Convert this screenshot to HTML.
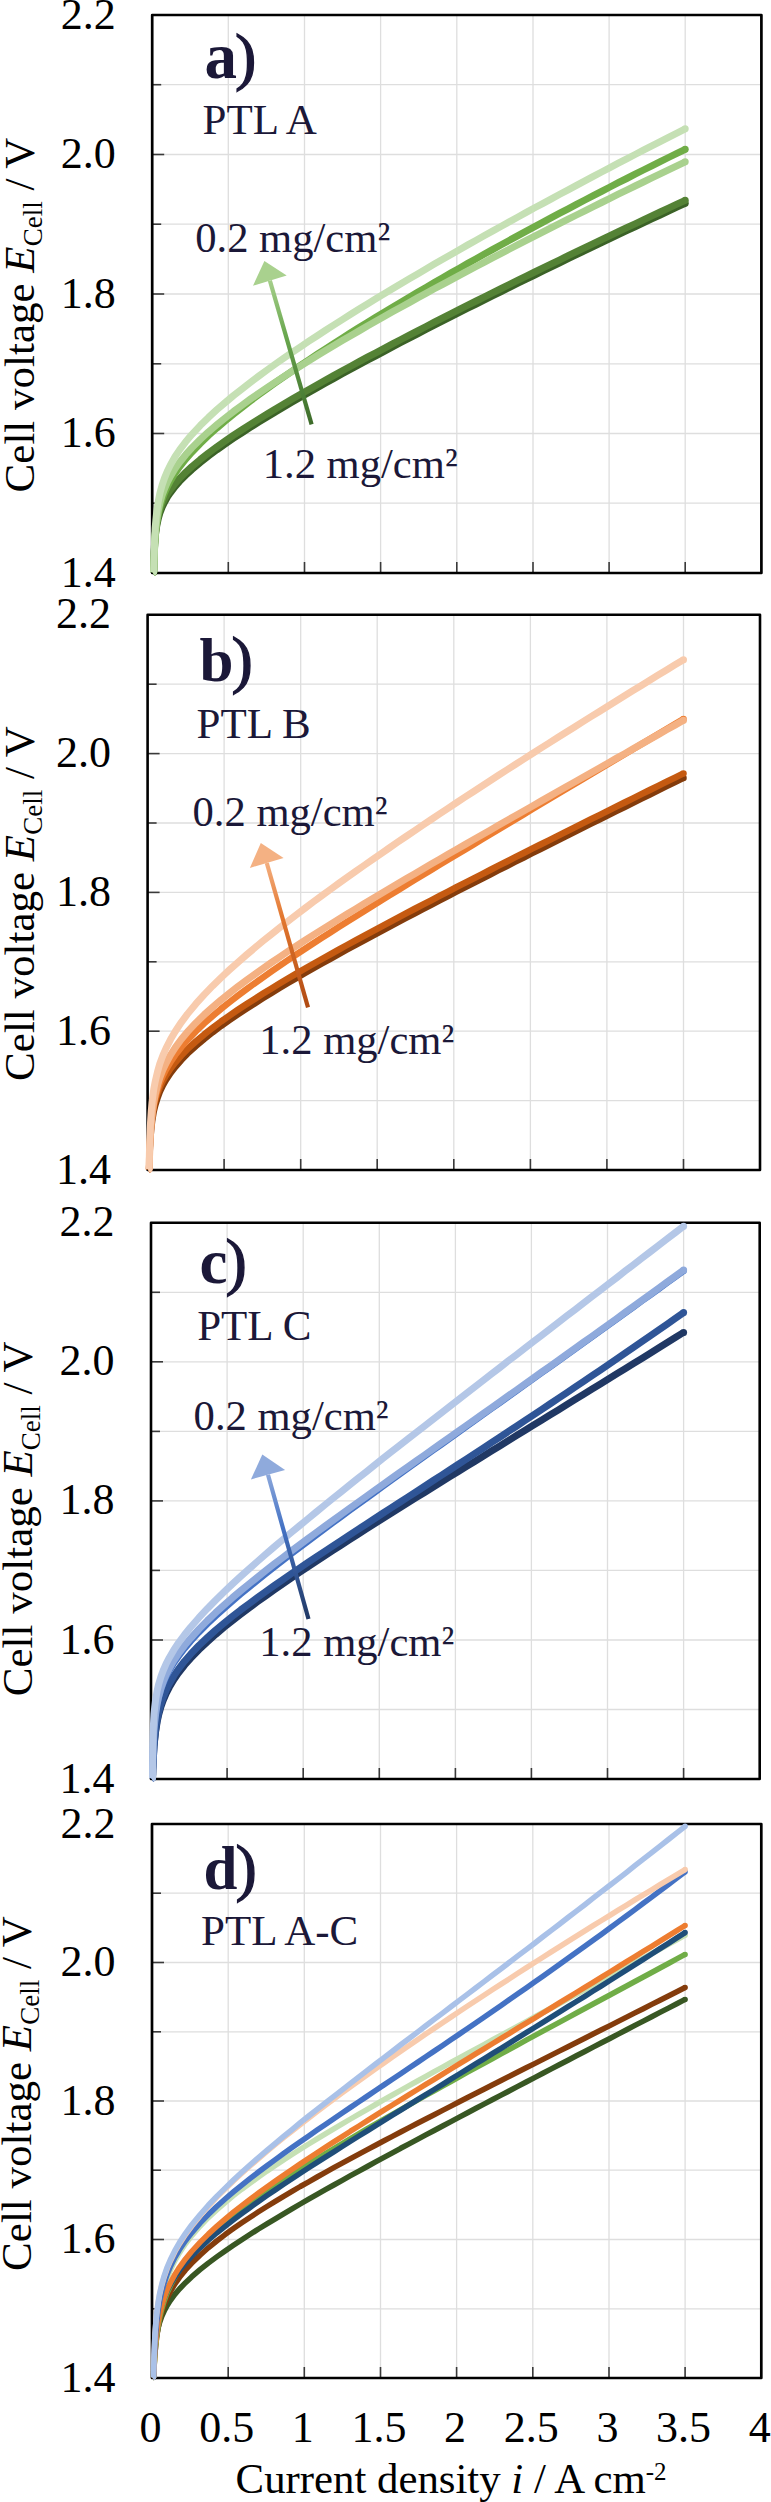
<!DOCTYPE html>
<html><head><meta charset="utf-8"><style>html,body{margin:0;padding:0;background:#fff;}svg{display:block}</style></head>
<body><svg width="771" height="2502" viewBox="0 0 771 2502" font-family='"Liberation Serif", serif'>

<rect width="771" height="2502" fill="#fff"/>
<line x1="152.2" y1="503.2" x2="761.4" y2="503.2" stroke="#dedede" stroke-width="1.3"/>
<line x1="152.2" y1="433.5" x2="761.4" y2="433.5" stroke="#dedede" stroke-width="1.3"/>
<line x1="152.2" y1="363.8" x2="761.4" y2="363.8" stroke="#dedede" stroke-width="1.3"/>
<line x1="152.2" y1="294.0" x2="761.4" y2="294.0" stroke="#dedede" stroke-width="1.3"/>
<line x1="152.2" y1="224.2" x2="761.4" y2="224.2" stroke="#dedede" stroke-width="1.3"/>
<line x1="152.2" y1="154.5" x2="761.4" y2="154.5" stroke="#dedede" stroke-width="1.3"/>
<line x1="152.2" y1="84.7" x2="761.4" y2="84.7" stroke="#dedede" stroke-width="1.3"/>
<line x1="228.3" y1="15.0" x2="228.3" y2="573.0" stroke="#dedede" stroke-width="1.3"/>
<line x1="304.5" y1="15.0" x2="304.5" y2="573.0" stroke="#dedede" stroke-width="1.3"/>
<line x1="380.6" y1="15.0" x2="380.6" y2="573.0" stroke="#dedede" stroke-width="1.3"/>
<line x1="456.8" y1="15.0" x2="456.8" y2="573.0" stroke="#dedede" stroke-width="1.3"/>
<line x1="533.0" y1="15.0" x2="533.0" y2="573.0" stroke="#dedede" stroke-width="1.3"/>
<line x1="609.1" y1="15.0" x2="609.1" y2="573.0" stroke="#dedede" stroke-width="1.3"/>
<line x1="685.2" y1="15.0" x2="685.2" y2="573.0" stroke="#dedede" stroke-width="1.3"/>
<line x1="152.2" y1="503.2" x2="161.2" y2="503.2" stroke="#3a3a3a" stroke-width="1.6"/>
<line x1="152.2" y1="433.5" x2="164.2" y2="433.5" stroke="#3a3a3a" stroke-width="1.6"/>
<line x1="152.2" y1="363.8" x2="161.2" y2="363.8" stroke="#3a3a3a" stroke-width="1.6"/>
<line x1="152.2" y1="294.0" x2="164.2" y2="294.0" stroke="#3a3a3a" stroke-width="1.6"/>
<line x1="152.2" y1="224.2" x2="161.2" y2="224.2" stroke="#3a3a3a" stroke-width="1.6"/>
<line x1="152.2" y1="154.5" x2="164.2" y2="154.5" stroke="#3a3a3a" stroke-width="1.6"/>
<line x1="152.2" y1="84.7" x2="161.2" y2="84.7" stroke="#3a3a3a" stroke-width="1.6"/>
<line x1="228.3" y1="573.0" x2="228.3" y2="562.0" stroke="#3a3a3a" stroke-width="1.6"/>
<line x1="304.5" y1="573.0" x2="304.5" y2="562.0" stroke="#3a3a3a" stroke-width="1.6"/>
<line x1="380.6" y1="573.0" x2="380.6" y2="562.0" stroke="#3a3a3a" stroke-width="1.6"/>
<line x1="456.8" y1="573.0" x2="456.8" y2="562.0" stroke="#3a3a3a" stroke-width="1.6"/>
<line x1="533.0" y1="573.0" x2="533.0" y2="562.0" stroke="#3a3a3a" stroke-width="1.6"/>
<line x1="609.1" y1="573.0" x2="609.1" y2="562.0" stroke="#3a3a3a" stroke-width="1.6"/>
<line x1="685.2" y1="573.0" x2="685.2" y2="562.0" stroke="#3a3a3a" stroke-width="1.6"/>
<rect x="152.2" y="15.0" width="609.2" height="558.0" fill="none" stroke="#000" stroke-width="2.7" stroke-linejoin="round"/>
<text x="115.7" y="586.5" font-size="44" text-anchor="end">1.4</text>
<text x="115.7" y="447.0" font-size="44" text-anchor="end">1.6</text>
<text x="115.7" y="307.5" font-size="44" text-anchor="end">1.8</text>
<text x="115.7" y="168.0" font-size="44" text-anchor="end">2.0</text>
<text x="115.7" y="28.5" font-size="44" text-anchor="end">2.2</text>
<path d="M152.8,572.7 L153.4,572.4 L153.7,572.3 L153.8,568.7 L153.9,565.2 L154.0,559.3 L154.2,554.5 L154.5,547.4 L154.8,542.4 L155.2,536.8 L155.9,531.4 L156.8,525.5 L158.3,518.5 L159.8,513.3 L162.1,507.3 L164.4,502.5 L167.4,497.1 L170.5,492.6 L175.0,486.6 L179.6,481.4 L185.7,475.3 L191.8,469.6 L200.2,462.6 L208.5,456.0 L216.9,449.8 L225.3,443.9 L233.6,438.2 L242.0,432.7 L250.3,427.4 L258.7,422.1 L267.1,417.0 L275.4,411.9 L283.8,407.0 L292.2,402.1 L300.5,397.2 L308.9,392.5 L317.3,387.7 L325.6,383.0 L334.0,378.4 L342.3,373.8 L350.7,369.2 L359.1,364.7 L367.4,360.2 L375.8,355.8 L384.2,351.3 L392.5,346.9 L400.9,342.5 L409.3,338.2 L417.6,333.8 L426.0,329.5 L434.3,325.2 L442.7,320.9 L451.1,316.7 L459.4,312.4 L467.8,308.2 L476.2,304.0 L484.5,299.8 L492.9,295.6 L501.3,291.5 L509.6,287.3 L518.0,283.2 L526.3,279.1 L534.7,275.0 L543.1,270.9 L551.4,266.8 L559.8,262.8 L568.2,258.7 L576.5,254.7 L584.9,250.7 L593.3,246.7 L601.6,242.7 L610.0,238.7 L618.3,234.7 L626.7,230.7 L635.1,226.8 L643.4,222.8 L651.8,218.9 L660.2,215.0 L668.5,211.1 L676.9,207.2 L685.2,203.3" fill="none" stroke="#3b6227" stroke-width="7.0" stroke-linecap="butt" stroke-linejoin="round"/>
<circle cx="685.2" cy="203.3" r="3.50" fill="#3b6227"/>
<path d="M152.8,572.7 L153.4,572.4 L153.7,572.3 L153.8,567.9 L153.9,563.8 L154.0,557.1 L154.2,551.9 L154.5,544.6 L154.8,539.5 L155.2,533.9 L155.9,528.4 L156.8,522.5 L158.3,515.5 L159.8,510.3 L162.1,504.3 L164.4,499.5 L167.4,494.1 L170.5,489.6 L175.0,483.6 L179.6,478.4 L185.7,472.3 L191.8,466.6 L200.2,459.6 L208.5,453.0 L216.9,446.8 L225.3,440.9 L233.6,435.2 L242.0,429.7 L250.3,424.4 L258.7,419.1 L267.1,414.0 L275.4,408.9 L283.8,404.0 L292.2,399.1 L300.5,394.2 L308.9,389.5 L317.3,384.7 L325.6,380.0 L334.0,375.4 L342.3,370.8 L350.7,366.2 L359.1,361.7 L367.4,357.2 L375.8,352.8 L384.2,348.3 L392.5,343.9 L400.9,339.5 L409.3,335.2 L417.6,330.8 L426.0,326.5 L434.3,322.2 L442.7,317.9 L451.1,313.7 L459.4,309.4 L467.8,305.2 L476.2,301.0 L484.5,296.8 L492.9,292.6 L501.3,288.5 L509.6,284.3 L518.0,280.2 L526.3,276.1 L534.7,272.0 L543.1,267.9 L551.4,263.8 L559.8,259.8 L568.2,255.7 L576.5,251.7 L584.9,247.7 L593.3,243.7 L601.6,239.7 L610.0,235.7 L618.3,231.7 L626.7,227.7 L635.1,223.8 L643.4,219.8 L651.8,215.9 L660.2,212.0 L668.5,208.1 L676.9,204.2 L685.2,200.3" fill="none" stroke="#548235" stroke-width="7.0" stroke-linecap="butt" stroke-linejoin="round"/>
<circle cx="685.2" cy="200.3" r="3.50" fill="#548235"/>
<path d="M152.8,572.7 L153.4,572.3 L153.7,572.1 L153.8,569.4 L153.9,566.8 L154.0,561.8 L154.2,557.2 L154.5,549.7 L154.8,543.8 L155.2,537.0 L155.9,530.2 L156.8,522.7 L158.3,513.8 L159.8,507.1 L162.1,499.4 L164.4,493.3 L167.4,486.5 L170.5,480.7 L175.0,473.3 L179.6,466.8 L185.7,459.1 L191.8,452.2 L200.2,443.5 L208.5,435.5 L216.9,428.0 L225.3,420.9 L233.6,414.0 L242.0,407.4 L250.3,401.0 L258.7,394.8 L267.1,388.7 L275.4,382.7 L283.8,376.8 L292.2,371.1 L300.5,365.4 L308.9,359.8 L317.3,354.3 L325.6,348.8 L334.0,343.4 L342.3,338.1 L350.7,332.8 L359.1,327.6 L367.4,322.4 L375.8,317.3 L384.2,312.2 L392.5,307.2 L400.9,302.2 L409.3,297.2 L417.6,292.3 L426.0,287.4 L434.3,282.5 L442.7,277.7 L451.1,272.9 L459.4,268.2 L467.8,263.4 L476.2,258.7 L484.5,254.0 L492.9,249.4 L501.3,244.8 L509.6,240.2 L518.0,235.6 L526.3,231.1 L534.7,226.6 L543.1,222.1 L551.4,217.6 L559.8,213.2 L568.2,208.8 L576.5,204.4 L584.9,200.0 L593.3,195.7 L601.6,191.3 L610.0,187.0 L618.3,182.7 L626.7,178.5 L635.1,174.2 L643.4,170.0 L651.8,165.8 L660.2,161.7 L668.5,157.5 L676.9,153.4 L685.2,149.3" fill="none" stroke="#70ad47" stroke-width="7.0" stroke-linecap="butt" stroke-linejoin="round"/>
<circle cx="685.2" cy="149.3" r="3.50" fill="#70ad47"/>
<path d="M152.8,572.7 L153.4,572.4 L153.7,572.2 L153.8,569.4 L153.9,566.6 L154.0,561.4 L154.2,556.6 L154.5,548.6 L154.8,542.4 L155.2,535.1 L155.9,527.9 L156.8,519.9 L158.3,510.4 L159.8,503.4 L162.1,495.4 L164.4,489.1 L167.4,482.1 L170.5,476.2 L175.0,468.7 L179.6,462.3 L185.7,454.7 L191.8,447.9 L200.2,439.5 L208.5,431.8 L216.9,424.7 L225.3,417.9 L233.6,411.4 L242.0,405.2 L250.3,399.2 L258.7,393.3 L267.1,387.6 L275.4,382.1 L283.8,376.6 L292.2,371.2 L300.5,366.0 L308.9,360.8 L317.3,355.6 L325.6,350.6 L334.0,345.6 L342.3,340.6 L350.7,335.7 L359.1,330.9 L367.4,326.0 L375.8,321.3 L384.2,316.5 L392.5,311.8 L400.9,307.2 L409.3,302.6 L417.6,297.9 L426.0,293.4 L434.3,288.8 L442.7,284.3 L451.1,279.8 L459.4,275.4 L467.8,270.9 L476.2,266.5 L484.5,262.1 L492.9,257.7 L501.3,253.4 L509.6,249.0 L518.0,244.7 L526.3,240.4 L534.7,236.1 L543.1,231.9 L551.4,227.6 L559.8,223.4 L568.2,219.2 L576.5,215.0 L584.9,210.8 L593.3,206.6 L601.6,202.5 L610.0,198.4 L618.3,194.2 L626.7,190.1 L635.1,186.0 L643.4,182.0 L651.8,177.9 L660.2,173.8 L668.5,169.8 L676.9,165.8 L685.2,161.8" fill="none" stroke="#a9d18e" stroke-width="7.0" stroke-linecap="butt" stroke-linejoin="round"/>
<circle cx="685.2" cy="161.8" r="3.50" fill="#a9d18e"/>
<path d="M152.8,572.7 L153.4,572.3 L153.7,572.2 L153.8,568.4 L153.9,564.7 L154.0,557.8 L154.2,551.9 L154.5,542.5 L154.8,535.5 L155.2,527.5 L155.9,519.7 L156.8,511.2 L158.3,501.1 L159.8,493.7 L162.1,485.2 L164.4,478.4 L167.4,471.0 L170.5,464.8 L175.0,456.8 L179.6,449.9 L185.7,441.8 L191.8,434.6 L200.2,425.6 L208.5,417.4 L216.9,409.7 L225.3,402.5 L233.6,395.5 L242.0,388.9 L250.3,382.4 L258.7,376.1 L267.1,370.0 L275.4,364.0 L283.8,358.2 L292.2,352.4 L300.5,346.8 L308.9,341.2 L317.3,335.7 L325.6,330.3 L334.0,324.9 L342.3,319.6 L350.7,314.3 L359.1,309.1 L367.4,304.0 L375.8,298.8 L384.2,293.8 L392.5,288.7 L400.9,283.7 L409.3,278.8 L417.6,273.9 L426.0,269.0 L434.3,264.1 L442.7,259.3 L451.1,254.5 L459.4,249.7 L467.8,244.9 L476.2,240.2 L484.5,235.5 L492.9,230.9 L501.3,226.2 L509.6,221.6 L518.0,217.0 L526.3,212.4 L534.7,207.8 L543.1,203.3 L551.4,198.8 L559.8,194.2 L568.2,189.8 L576.5,185.3 L584.9,180.9 L593.3,176.4 L601.6,172.0 L610.0,167.6 L618.3,163.2 L626.7,158.9 L635.1,154.5 L643.4,150.2 L651.8,145.9 L660.2,141.6 L668.5,137.3 L676.9,133.1 L685.2,128.8" fill="none" stroke="#c5e0b4" stroke-width="7.0" stroke-linecap="butt" stroke-linejoin="round"/>
<circle cx="685.2" cy="128.8" r="3.50" fill="#c5e0b4"/>
<text x="204.5" y="78" font-size="65" fill="#1b1838"><tspan font-weight="bold" stroke="none">a</tspan><tspan font-size="64" dx="-2" stroke="#1b1838" stroke-width="1.3">)</tspan></text>
<text x="202.5" y="133.7" font-size="43" fill="#1b1838">PTL A</text>
<text x="195.2" y="252" font-size="42.6" fill="#1b1838">0.2 mg/cm²</text>
<text x="262.7" y="477.7" font-size="42.6" fill="#1b1838">1.2 mg/cm²</text>
<defs><linearGradient id="ga" gradientUnits="userSpaceOnUse" x1="264.4" y1="260.9" x2="311.6" y2="424.3"><stop offset="0.1" stop-color="#a9d18e"/><stop offset="0.45" stop-color="#6aa84f"/><stop offset="1" stop-color="#3d6b2a"/></linearGradient></defs>
<line x1="311.6" y1="424.3" x2="269.9" y2="280.6" stroke="url(#ga)" stroke-width="4.2"/>
<polygon points="264.4,260.9 253,285.8 286.7,275.4" fill="#a9d18e"/>
<text transform="translate(34.2,315.0) rotate(-90)" font-size="43" text-anchor="middle">Cell voltage <tspan font-style="italic">E</tspan><tspan font-size="27" dy="8">Cell</tspan><tspan dy="-8"> / V</tspan></text>
<line x1="147.6" y1="1100.6" x2="760.0" y2="1100.6" stroke="#dedede" stroke-width="1.3"/>
<line x1="147.6" y1="1031.2" x2="760.0" y2="1031.2" stroke="#dedede" stroke-width="1.3"/>
<line x1="147.6" y1="961.8" x2="760.0" y2="961.8" stroke="#dedede" stroke-width="1.3"/>
<line x1="147.6" y1="892.4" x2="760.0" y2="892.4" stroke="#dedede" stroke-width="1.3"/>
<line x1="147.6" y1="823.0" x2="760.0" y2="823.0" stroke="#dedede" stroke-width="1.3"/>
<line x1="147.6" y1="753.6" x2="760.0" y2="753.6" stroke="#dedede" stroke-width="1.3"/>
<line x1="147.6" y1="684.2" x2="760.0" y2="684.2" stroke="#dedede" stroke-width="1.3"/>
<line x1="224.1" y1="614.8" x2="224.1" y2="1170.0" stroke="#dedede" stroke-width="1.3"/>
<line x1="300.7" y1="614.8" x2="300.7" y2="1170.0" stroke="#dedede" stroke-width="1.3"/>
<line x1="377.2" y1="614.8" x2="377.2" y2="1170.0" stroke="#dedede" stroke-width="1.3"/>
<line x1="453.8" y1="614.8" x2="453.8" y2="1170.0" stroke="#dedede" stroke-width="1.3"/>
<line x1="530.4" y1="614.8" x2="530.4" y2="1170.0" stroke="#dedede" stroke-width="1.3"/>
<line x1="606.9" y1="614.8" x2="606.9" y2="1170.0" stroke="#dedede" stroke-width="1.3"/>
<line x1="683.5" y1="614.8" x2="683.5" y2="1170.0" stroke="#dedede" stroke-width="1.3"/>
<line x1="147.6" y1="1100.6" x2="156.6" y2="1100.6" stroke="#3a3a3a" stroke-width="1.6"/>
<line x1="147.6" y1="1031.2" x2="159.6" y2="1031.2" stroke="#3a3a3a" stroke-width="1.6"/>
<line x1="147.6" y1="961.8" x2="156.6" y2="961.8" stroke="#3a3a3a" stroke-width="1.6"/>
<line x1="147.6" y1="892.4" x2="159.6" y2="892.4" stroke="#3a3a3a" stroke-width="1.6"/>
<line x1="147.6" y1="823.0" x2="156.6" y2="823.0" stroke="#3a3a3a" stroke-width="1.6"/>
<line x1="147.6" y1="753.6" x2="159.6" y2="753.6" stroke="#3a3a3a" stroke-width="1.6"/>
<line x1="147.6" y1="684.2" x2="156.6" y2="684.2" stroke="#3a3a3a" stroke-width="1.6"/>
<line x1="224.1" y1="1170.0" x2="224.1" y2="1159.0" stroke="#3a3a3a" stroke-width="1.6"/>
<line x1="300.7" y1="1170.0" x2="300.7" y2="1159.0" stroke="#3a3a3a" stroke-width="1.6"/>
<line x1="377.2" y1="1170.0" x2="377.2" y2="1159.0" stroke="#3a3a3a" stroke-width="1.6"/>
<line x1="453.8" y1="1170.0" x2="453.8" y2="1159.0" stroke="#3a3a3a" stroke-width="1.6"/>
<line x1="530.4" y1="1170.0" x2="530.4" y2="1159.0" stroke="#3a3a3a" stroke-width="1.6"/>
<line x1="606.9" y1="1170.0" x2="606.9" y2="1159.0" stroke="#3a3a3a" stroke-width="1.6"/>
<line x1="683.5" y1="1170.0" x2="683.5" y2="1159.0" stroke="#3a3a3a" stroke-width="1.6"/>
<rect x="147.6" y="614.8" width="612.4" height="555.2" fill="none" stroke="#000" stroke-width="2.6" stroke-linejoin="round"/>
<text x="111.1" y="1183.5" font-size="44" text-anchor="end">1.4</text>
<text x="111.1" y="1044.7" font-size="44" text-anchor="end">1.6</text>
<text x="111.1" y="905.9" font-size="44" text-anchor="end">1.8</text>
<text x="111.1" y="767.1" font-size="44" text-anchor="end">2.0</text>
<text x="111.1" y="628.3" font-size="44" text-anchor="end">2.2</text>
<path d="M148.2,1169.7 L148.8,1169.5 L149.1,1169.3 L149.2,1166.8 L149.3,1164.2 L149.4,1159.4 L149.6,1155.0 L149.9,1147.6 L150.2,1141.8 L150.7,1135.0 L151.3,1128.2 L152.2,1120.7 L153.7,1111.8 L155.3,1105.3 L157.6,1097.8 L159.8,1091.9 L162.9,1085.4 L166.0,1080.0 L170.6,1073.0 L175.2,1067.0 L181.3,1060.0 L187.4,1053.7 L195.8,1046.0 L204.2,1038.9 L212.6,1032.3 L221.0,1026.0 L229.4,1020.1 L237.9,1014.3 L246.3,1008.8 L254.7,1003.4 L263.1,998.1 L271.5,992.9 L279.9,987.8 L288.3,982.8 L296.7,977.9 L305.1,973.0 L313.5,968.2 L321.9,963.5 L330.3,958.8 L338.7,954.1 L347.1,949.5 L355.6,944.9 L364.0,940.3 L372.4,935.8 L380.8,931.3 L389.2,926.8 L397.6,922.4 L406.0,917.9 L414.4,913.5 L422.8,909.1 L431.2,904.8 L439.6,900.4 L448.0,896.1 L456.4,891.7 L464.9,887.4 L473.3,883.1 L481.7,878.8 L490.1,874.5 L498.5,870.2 L506.9,866.0 L515.3,861.7 L523.7,857.5 L532.1,853.2 L540.5,849.0 L548.9,844.8 L557.3,840.6 L565.7,836.3 L574.2,832.1 L582.6,827.9 L591.0,823.7 L599.4,819.6 L607.8,815.4 L616.2,811.2 L624.6,807.0 L633.0,802.9 L641.4,798.7 L649.8,794.5 L658.2,790.4 L666.6,786.2 L675.0,782.1 L683.5,777.9" fill="none" stroke="#843c0c" stroke-width="6.5" stroke-linecap="butt" stroke-linejoin="round"/>
<circle cx="683.5" cy="777.9" r="3.25" fill="#843c0c"/>
<path d="M148.2,1169.7 L148.8,1169.5 L149.1,1169.3 L149.2,1166.1 L149.3,1163.0 L149.4,1157.2 L149.6,1152.1 L149.9,1143.9 L150.2,1137.7 L150.7,1130.7 L151.3,1123.8 L152.2,1116.3 L153.7,1107.4 L155.3,1100.8 L157.6,1093.3 L159.8,1087.4 L162.9,1080.9 L166.0,1075.5 L170.6,1068.5 L175.2,1062.5 L181.3,1055.5 L187.4,1049.2 L195.8,1041.5 L204.2,1034.4 L212.6,1027.8 L221.0,1021.5 L229.4,1015.6 L237.9,1009.8 L246.3,1004.3 L254.7,998.9 L263.1,993.6 L271.5,988.4 L279.9,983.3 L288.3,978.3 L296.7,973.4 L305.1,968.5 L313.5,963.7 L321.9,959.0 L330.3,954.3 L338.7,949.6 L347.1,945.0 L355.6,940.4 L364.0,935.8 L372.4,931.3 L380.8,926.8 L389.2,922.3 L397.6,917.9 L406.0,913.4 L414.4,909.0 L422.8,904.6 L431.2,900.3 L439.6,895.9 L448.0,891.6 L456.4,887.2 L464.9,882.9 L473.3,878.6 L481.7,874.3 L490.1,870.0 L498.5,865.7 L506.9,861.5 L515.3,857.2 L523.7,853.0 L532.1,848.7 L540.5,844.5 L548.9,840.3 L557.3,836.1 L565.7,831.8 L574.2,827.6 L582.6,823.4 L591.0,819.2 L599.4,815.1 L607.8,810.9 L616.2,806.7 L624.6,802.5 L633.0,798.4 L641.4,794.2 L649.8,790.0 L658.2,785.9 L666.6,781.7 L675.0,777.6 L683.5,773.4" fill="none" stroke="#c55a11" stroke-width="6.5" stroke-linecap="butt" stroke-linejoin="round"/>
<circle cx="683.5" cy="773.4" r="3.25" fill="#c55a11"/>
<path d="M148.2,1169.7 L148.8,1169.4 L149.1,1169.3 L149.2,1166.5 L149.3,1163.7 L149.4,1158.4 L149.6,1153.6 L149.9,1145.5 L150.2,1139.0 L150.7,1131.4 L151.3,1123.8 L152.2,1115.4 L153.7,1105.5 L155.3,1098.1 L157.6,1089.7 L159.8,1083.0 L162.9,1075.7 L166.0,1069.6 L170.6,1061.8 L175.2,1055.1 L181.3,1047.2 L187.4,1040.2 L195.8,1031.4 L204.2,1023.4 L212.6,1016.0 L221.0,1008.9 L229.4,1002.2 L237.9,995.7 L246.3,989.4 L254.7,983.3 L263.1,977.3 L271.5,971.4 L279.9,965.6 L288.3,959.9 L296.7,954.3 L305.1,948.7 L313.5,943.2 L321.9,937.8 L330.3,932.4 L338.7,927.1 L347.1,921.7 L355.6,916.5 L364.0,911.2 L372.4,906.0 L380.8,900.8 L389.2,895.6 L397.6,890.4 L406.0,885.3 L414.4,880.1 L422.8,875.0 L431.2,869.9 L439.6,864.8 L448.0,859.8 L456.4,854.7 L464.9,849.6 L473.3,844.6 L481.7,839.5 L490.1,834.5 L498.5,829.4 L506.9,824.4 L515.3,819.4 L523.7,814.4 L532.1,809.3 L540.5,804.3 L548.9,799.3 L557.3,794.3 L565.7,789.3 L574.2,784.3 L582.6,779.2 L591.0,774.2 L599.4,769.2 L607.8,764.2 L616.2,759.2 L624.6,754.2 L633.0,749.2 L641.4,744.1 L649.8,739.1 L658.2,734.1 L666.6,729.1 L675.0,724.0 L683.5,719.0" fill="none" stroke="#ed7d31" stroke-width="6.5" stroke-linecap="butt" stroke-linejoin="round"/>
<circle cx="683.5" cy="719.0" r="3.25" fill="#ed7d31"/>
<path d="M148.2,1169.7 L148.8,1169.4 L149.1,1169.3 L149.2,1166.7 L149.3,1164.1 L149.4,1159.1 L149.6,1154.5 L149.9,1146.2 L150.2,1139.4 L150.7,1131.3 L151.3,1122.9 L152.2,1113.6 L153.7,1102.6 L155.3,1094.4 L157.6,1085.1 L159.8,1077.8 L162.9,1069.8 L166.0,1063.2 L170.6,1054.8 L175.2,1047.6 L181.3,1039.3 L187.4,1031.9 L195.8,1022.9 L204.2,1014.7 L212.6,1007.1 L221.0,999.9 L229.4,993.2 L237.9,986.6 L246.3,980.4 L254.7,974.3 L263.1,968.3 L271.5,962.5 L279.9,956.8 L288.3,951.2 L296.7,945.7 L305.1,940.3 L313.5,934.9 L321.9,929.6 L330.3,924.4 L338.7,919.2 L347.1,914.0 L355.6,908.9 L364.0,903.8 L372.4,898.8 L380.8,893.8 L389.2,888.8 L397.6,883.8 L406.0,878.8 L414.4,873.9 L422.8,869.0 L431.2,864.1 L439.6,859.2 L448.0,854.3 L456.4,849.5 L464.9,844.6 L473.3,839.8 L481.7,835.0 L490.1,830.2 L498.5,825.3 L506.9,820.5 L515.3,815.7 L523.7,811.0 L532.1,806.2 L540.5,801.4 L548.9,796.6 L557.3,791.8 L565.7,787.0 L574.2,782.3 L582.6,777.5 L591.0,772.7 L599.4,768.0 L607.8,763.2 L616.2,758.4 L624.6,753.7 L633.0,748.9 L641.4,744.1 L649.8,739.4 L658.2,734.6 L666.6,729.8 L675.0,725.1 L683.5,720.3" fill="none" stroke="#f4b183" stroke-width="7.0" stroke-linecap="butt" stroke-linejoin="round"/>
<circle cx="683.5" cy="720.3" r="3.50" fill="#f4b183"/>
<path d="M148.2,1169.6 L148.8,1169.3 L149.1,1169.1 L149.2,1165.0 L149.3,1161.0 L149.4,1153.5 L149.6,1147.0 L149.9,1136.5 L150.2,1128.6 L150.7,1119.6 L151.3,1110.8 L152.2,1101.0 L153.7,1089.6 L155.3,1081.2 L157.6,1071.5 L159.8,1063.8 L162.9,1055.4 L166.0,1048.3 L170.6,1039.3 L175.2,1031.5 L181.3,1022.3 L187.4,1014.1 L195.8,1003.9 L204.2,994.6 L212.6,985.9 L221.0,977.7 L229.4,969.9 L237.9,962.3 L246.3,955.0 L254.7,947.9 L263.1,940.9 L271.5,934.2 L279.9,927.5 L288.3,920.9 L296.7,914.5 L305.1,908.1 L313.5,901.8 L321.9,895.6 L330.3,889.5 L338.7,883.4 L347.1,877.4 L355.6,871.4 L364.0,865.5 L372.4,859.6 L380.8,853.8 L389.2,848.0 L397.6,842.2 L406.0,836.5 L414.4,830.8 L422.8,825.1 L431.2,819.5 L439.6,813.9 L448.0,808.3 L456.4,802.8 L464.9,797.2 L473.3,791.7 L481.7,786.2 L490.1,780.8 L498.5,775.3 L506.9,769.9 L515.3,764.5 L523.7,759.1 L532.1,753.8 L540.5,748.4 L548.9,743.1 L557.3,737.8 L565.7,732.5 L574.2,727.2 L582.6,721.9 L591.0,716.6 L599.4,711.4 L607.8,706.2 L616.2,701.0 L624.6,695.8 L633.0,690.6 L641.4,685.4 L649.8,680.2 L658.2,675.1 L666.6,669.9 L675.0,664.8 L683.5,659.7" fill="none" stroke="#f8cbad" stroke-width="7.0" stroke-linecap="butt" stroke-linejoin="round"/>
<circle cx="683.5" cy="659.7" r="3.50" fill="#f8cbad"/>
<text x="199.5" y="681.3" font-size="61" fill="#1b1838"><tspan font-weight="bold" stroke="none">b</tspan><tspan font-size="64" dx="-2" stroke="#1b1838" stroke-width="1.3">)</tspan></text>
<text x="196.5" y="737.9" font-size="43" fill="#1b1838">PTL B</text>
<text x="192.5" y="826.2" font-size="42.6" fill="#1b1838">0.2 mg/cm²</text>
<text x="259.3" y="1053.5" font-size="42.6" fill="#1b1838">1.2 mg/cm²</text>
<defs><linearGradient id="gb" gradientUnits="userSpaceOnUse" x1="260.8" y1="843" x2="308" y2="1007.4"><stop offset="0.1" stop-color="#f4b183"/><stop offset="0.45" stop-color="#e3772f"/><stop offset="1" stop-color="#b04a12"/></linearGradient></defs>
<line x1="308" y1="1007.4" x2="266.8" y2="863.0" stroke="url(#gb)" stroke-width="4.2"/>
<polygon points="260.8,843 249.9,867.9 283.6,858" fill="#f4b183"/>
<text transform="translate(33.9,903.5) rotate(-90)" font-size="43" text-anchor="middle">Cell voltage <tspan font-style="italic">E</tspan><tspan font-size="27" dy="8">Cell</tspan><tspan dy="-8"> / V</tspan></text>
<line x1="151.0" y1="1709.5" x2="759.7" y2="1709.5" stroke="#dedede" stroke-width="1.3"/>
<line x1="151.0" y1="1640.0" x2="759.7" y2="1640.0" stroke="#dedede" stroke-width="1.3"/>
<line x1="151.0" y1="1570.4" x2="759.7" y2="1570.4" stroke="#dedede" stroke-width="1.3"/>
<line x1="151.0" y1="1500.9" x2="759.7" y2="1500.9" stroke="#dedede" stroke-width="1.3"/>
<line x1="151.0" y1="1431.4" x2="759.7" y2="1431.4" stroke="#dedede" stroke-width="1.3"/>
<line x1="151.0" y1="1361.8" x2="759.7" y2="1361.8" stroke="#dedede" stroke-width="1.3"/>
<line x1="151.0" y1="1292.3" x2="759.7" y2="1292.3" stroke="#dedede" stroke-width="1.3"/>
<line x1="227.1" y1="1222.8" x2="227.1" y2="1779.0" stroke="#dedede" stroke-width="1.3"/>
<line x1="303.2" y1="1222.8" x2="303.2" y2="1779.0" stroke="#dedede" stroke-width="1.3"/>
<line x1="379.3" y1="1222.8" x2="379.3" y2="1779.0" stroke="#dedede" stroke-width="1.3"/>
<line x1="455.4" y1="1222.8" x2="455.4" y2="1779.0" stroke="#dedede" stroke-width="1.3"/>
<line x1="531.4" y1="1222.8" x2="531.4" y2="1779.0" stroke="#dedede" stroke-width="1.3"/>
<line x1="607.5" y1="1222.8" x2="607.5" y2="1779.0" stroke="#dedede" stroke-width="1.3"/>
<line x1="683.6" y1="1222.8" x2="683.6" y2="1779.0" stroke="#dedede" stroke-width="1.3"/>
<line x1="151.0" y1="1709.5" x2="160.0" y2="1709.5" stroke="#3a3a3a" stroke-width="1.6"/>
<line x1="151.0" y1="1640.0" x2="163.0" y2="1640.0" stroke="#3a3a3a" stroke-width="1.6"/>
<line x1="151.0" y1="1570.4" x2="160.0" y2="1570.4" stroke="#3a3a3a" stroke-width="1.6"/>
<line x1="151.0" y1="1500.9" x2="163.0" y2="1500.9" stroke="#3a3a3a" stroke-width="1.6"/>
<line x1="151.0" y1="1431.4" x2="160.0" y2="1431.4" stroke="#3a3a3a" stroke-width="1.6"/>
<line x1="151.0" y1="1361.8" x2="163.0" y2="1361.8" stroke="#3a3a3a" stroke-width="1.6"/>
<line x1="151.0" y1="1292.3" x2="160.0" y2="1292.3" stroke="#3a3a3a" stroke-width="1.6"/>
<line x1="227.1" y1="1779.0" x2="227.1" y2="1768.0" stroke="#3a3a3a" stroke-width="1.6"/>
<line x1="303.2" y1="1779.0" x2="303.2" y2="1768.0" stroke="#3a3a3a" stroke-width="1.6"/>
<line x1="379.3" y1="1779.0" x2="379.3" y2="1768.0" stroke="#3a3a3a" stroke-width="1.6"/>
<line x1="455.4" y1="1779.0" x2="455.4" y2="1768.0" stroke="#3a3a3a" stroke-width="1.6"/>
<line x1="531.4" y1="1779.0" x2="531.4" y2="1768.0" stroke="#3a3a3a" stroke-width="1.6"/>
<line x1="607.5" y1="1779.0" x2="607.5" y2="1768.0" stroke="#3a3a3a" stroke-width="1.6"/>
<line x1="683.6" y1="1779.0" x2="683.6" y2="1768.0" stroke="#3a3a3a" stroke-width="1.6"/>
<rect x="151.0" y="1222.8" width="608.7" height="556.2" fill="none" stroke="#000" stroke-width="2.6" stroke-linejoin="round"/>
<text x="114.5" y="1792.5" font-size="44" text-anchor="end">1.4</text>
<text x="114.5" y="1653.5" font-size="44" text-anchor="end">1.6</text>
<text x="114.5" y="1514.4" font-size="44" text-anchor="end">1.8</text>
<text x="114.5" y="1375.3" font-size="44" text-anchor="end">2.0</text>
<text x="114.5" y="1236.3" font-size="44" text-anchor="end">2.2</text>
<path d="M151.6,1778.7 L152.2,1778.4 L152.5,1778.2 L152.6,1776.1 L152.7,1774.0 L152.8,1769.9 L153.0,1766.1 L153.3,1759.3 L153.6,1753.6 L154.0,1746.7 L154.7,1739.6 L155.6,1731.6 L157.1,1722.1 L158.6,1715.0 L160.9,1706.8 L163.2,1700.4 L166.2,1693.3 L169.3,1687.3 L173.8,1679.7 L178.4,1673.1 L184.5,1665.3 L190.6,1658.4 L198.9,1649.8 L207.3,1641.9 L215.6,1634.5 L224.0,1627.4 L232.3,1620.7 L240.7,1614.2 L249.1,1607.9 L257.4,1601.8 L265.8,1595.8 L274.1,1589.9 L282.5,1584.1 L290.8,1578.3 L299.2,1572.7 L307.6,1567.1 L315.9,1561.6 L324.3,1556.1 L332.6,1550.6 L341.0,1545.2 L349.3,1539.8 L357.7,1534.5 L366.1,1529.1 L374.4,1523.8 L382.8,1518.6 L391.1,1513.3 L399.5,1508.1 L407.8,1502.8 L416.2,1497.6 L424.6,1492.4 L432.9,1487.2 L441.3,1482.0 L449.6,1476.8 L458.0,1471.7 L466.3,1466.5 L474.7,1461.4 L483.1,1456.2 L491.4,1451.0 L499.8,1445.9 L508.1,1440.8 L516.5,1435.6 L524.8,1430.5 L533.2,1425.3 L541.5,1420.2 L549.9,1415.0 L558.3,1409.9 L566.6,1404.8 L575.0,1399.6 L583.3,1394.5 L591.7,1389.3 L600.0,1384.2 L608.4,1379.0 L616.8,1373.8 L625.1,1368.7 L633.5,1363.5 L641.8,1358.4 L650.2,1353.2 L658.5,1348.0 L666.9,1342.8 L675.3,1337.6 L683.6,1332.4" fill="none" stroke="#203864" stroke-width="7.0" stroke-linecap="butt" stroke-linejoin="round"/>
<circle cx="683.6" cy="1332.4" r="3.50" fill="#203864"/>
<path d="M151.6,1778.7 L152.2,1778.4 L152.5,1778.3 L152.6,1776.2 L152.7,1774.1 L152.8,1770.0 L153.0,1766.2 L153.3,1759.3 L153.6,1753.4 L154.0,1746.2 L154.7,1738.7 L155.6,1730.3 L157.1,1720.2 L158.6,1712.7 L160.9,1704.1 L163.2,1697.3 L166.2,1690.0 L169.3,1683.8 L173.8,1675.9 L178.4,1669.1 L184.5,1661.2 L190.6,1654.2 L198.9,1645.5 L207.3,1637.6 L215.6,1630.1 L224.0,1623.1 L232.3,1616.4 L240.7,1609.9 L249.1,1603.7 L257.4,1597.5 L265.8,1591.5 L274.1,1585.6 L282.5,1579.8 L290.8,1574.0 L299.2,1568.4 L307.6,1562.7 L315.9,1557.1 L324.3,1551.6 L332.6,1546.1 L341.0,1540.6 L349.3,1535.1 L357.7,1529.6 L366.1,1524.2 L374.4,1518.8 L382.8,1513.3 L391.1,1507.9 L399.5,1502.5 L407.8,1497.1 L416.2,1491.7 L424.6,1486.2 L432.9,1480.8 L441.3,1475.4 L449.6,1470.0 L458.0,1464.5 L466.3,1459.1 L474.7,1453.6 L483.1,1448.2 L491.4,1442.7 L499.8,1437.2 L508.1,1431.7 L516.5,1426.2 L524.8,1420.7 L533.2,1415.1 L541.5,1409.6 L549.9,1404.0 L558.3,1398.4 L566.6,1392.8 L575.0,1387.2 L583.3,1381.6 L591.7,1375.9 L600.0,1370.3 L608.4,1364.6 L616.8,1358.9 L625.1,1353.2 L633.5,1347.4 L641.8,1341.7 L650.2,1335.9 L658.5,1330.1 L666.9,1324.3 L675.3,1318.4 L683.6,1312.6" fill="none" stroke="#2f5597" stroke-width="7.0" stroke-linecap="butt" stroke-linejoin="round"/>
<circle cx="683.6" cy="1312.6" r="3.50" fill="#2f5597"/>
<path d="M151.6,1778.6 L152.2,1778.3 L152.5,1778.1 L152.6,1772.6 L152.7,1767.4 L152.8,1758.7 L153.0,1752.1 L153.3,1742.5 L153.6,1735.8 L154.0,1728.5 L154.7,1721.4 L155.6,1713.6 L157.1,1704.5 L158.6,1697.7 L160.9,1689.9 L163.2,1683.7 L166.2,1676.7 L169.3,1670.9 L173.8,1663.2 L178.4,1656.6 L184.5,1648.6 L190.6,1641.4 L198.9,1632.4 L207.3,1624.0 L215.6,1616.1 L224.0,1608.5 L232.3,1601.2 L240.7,1594.1 L249.1,1587.2 L257.4,1580.4 L265.8,1573.7 L274.1,1567.1 L282.5,1560.7 L290.8,1554.2 L299.2,1547.9 L307.6,1541.6 L315.9,1535.3 L324.3,1529.1 L332.6,1522.9 L341.0,1516.8 L349.3,1510.7 L357.7,1504.6 L366.1,1498.5 L374.4,1492.5 L382.8,1486.4 L391.1,1480.4 L399.5,1474.4 L407.8,1468.4 L416.2,1462.4 L424.6,1456.4 L432.9,1450.4 L441.3,1444.5 L449.6,1438.5 L458.0,1432.5 L466.3,1426.6 L474.7,1420.6 L483.1,1414.7 L491.4,1408.7 L499.8,1402.8 L508.1,1396.8 L516.5,1390.8 L524.8,1384.9 L533.2,1378.9 L541.5,1372.9 L549.9,1367.0 L558.3,1361.0 L566.6,1355.0 L575.0,1349.1 L583.3,1343.1 L591.7,1337.1 L600.0,1331.1 L608.4,1325.1 L616.8,1319.1 L625.1,1313.1 L633.5,1307.1 L641.8,1301.0 L650.2,1295.0 L658.5,1289.0 L666.9,1282.9 L675.3,1276.9 L683.6,1270.8" fill="none" stroke="#4472c4" stroke-width="6.5" stroke-linecap="butt" stroke-linejoin="round"/>
<circle cx="683.6" cy="1270.8" r="3.25" fill="#4472c4"/>
<path d="M151.6,1778.7 L152.2,1778.3 L152.5,1778.2 L152.6,1773.6 L152.7,1769.2 L152.8,1761.3 L153.0,1754.9 L153.3,1745.1 L153.6,1738.0 L154.0,1730.1 L154.7,1722.5 L155.6,1714.1 L157.1,1704.3 L158.6,1697.0 L160.9,1688.7 L163.2,1682.0 L166.2,1674.7 L169.3,1668.6 L173.8,1660.6 L178.4,1653.7 L184.5,1645.6 L190.6,1638.3 L198.9,1629.1 L207.3,1620.6 L215.6,1612.7 L224.0,1605.1 L232.3,1597.8 L240.7,1590.8 L249.1,1583.9 L257.4,1577.2 L265.8,1570.6 L274.1,1564.1 L282.5,1557.7 L290.8,1551.4 L299.2,1545.1 L307.6,1538.9 L315.9,1532.8 L324.3,1526.6 L332.6,1520.6 L341.0,1514.5 L349.3,1508.5 L357.7,1502.5 L366.1,1496.5 L374.4,1490.5 L382.8,1484.6 L391.1,1478.6 L399.5,1472.7 L407.8,1466.8 L416.2,1460.9 L424.6,1455.0 L432.9,1449.1 L441.3,1443.2 L449.6,1437.3 L458.0,1431.4 L466.3,1425.5 L474.7,1419.6 L483.1,1413.7 L491.4,1407.8 L499.8,1401.8 L508.1,1395.9 L516.5,1390.0 L524.8,1384.1 L533.2,1378.2 L541.5,1372.2 L549.9,1366.3 L558.3,1360.3 L566.6,1354.4 L575.0,1348.4 L583.3,1342.4 L591.7,1336.5 L600.0,1330.5 L608.4,1324.5 L616.8,1318.5 L625.1,1312.4 L633.5,1306.4 L641.8,1300.4 L650.2,1294.3 L658.5,1288.2 L666.9,1282.2 L675.3,1276.1 L683.6,1270.0" fill="none" stroke="#8faadc" stroke-width="7.0" stroke-linecap="butt" stroke-linejoin="round"/>
<circle cx="683.6" cy="1270.0" r="3.50" fill="#8faadc"/>
<path d="M151.6,1778.6 L152.2,1778.2 L152.5,1778.0 L152.6,1766.2 L152.7,1757.1 L152.8,1745.4 L153.0,1737.9 L153.3,1728.0 L153.6,1721.4 L154.0,1714.2 L154.7,1707.3 L155.6,1699.9 L157.1,1691.0 L158.6,1684.4 L160.9,1676.7 L163.2,1670.5 L166.2,1663.6 L169.3,1657.7 L173.8,1649.9 L178.4,1643.0 L184.5,1634.8 L190.6,1627.2 L198.9,1617.7 L207.3,1608.7 L215.6,1600.2 L224.0,1592.0 L232.3,1584.1 L240.7,1576.4 L249.1,1568.9 L257.4,1561.5 L265.8,1554.2 L274.1,1547.0 L282.5,1539.9 L290.8,1532.9 L299.2,1526.0 L307.6,1519.1 L315.9,1512.2 L324.3,1505.4 L332.6,1498.6 L341.0,1491.9 L349.3,1485.2 L357.7,1478.5 L366.1,1471.9 L374.4,1465.2 L382.8,1458.6 L391.1,1452.1 L399.5,1445.5 L407.8,1438.9 L416.2,1432.4 L424.6,1425.9 L432.9,1419.4 L441.3,1412.9 L449.6,1406.4 L458.0,1399.9 L466.3,1393.4 L474.7,1386.9 L483.1,1380.5 L491.4,1374.0 L499.8,1367.6 L508.1,1361.1 L516.5,1354.7 L524.8,1348.2 L533.2,1341.8 L541.5,1335.4 L549.9,1328.9 L558.3,1322.5 L566.6,1316.1 L575.0,1309.7 L583.3,1303.2 L591.7,1296.8 L600.0,1290.4 L608.4,1284.0 L616.8,1277.6 L625.1,1271.1 L633.5,1264.7 L641.8,1258.3 L650.2,1251.9 L658.5,1245.5 L666.9,1239.0 L675.3,1232.6 L683.6,1226.2" fill="none" stroke="#b4c7e7" stroke-width="7.0" stroke-linecap="butt" stroke-linejoin="round"/>
<circle cx="683.6" cy="1226.2" r="3.50" fill="#b4c7e7"/>
<text x="199.5" y="1283" font-size="63" fill="#1b1838"><tspan font-weight="bold" stroke="none">c</tspan><tspan font-size="64" dx="-2" stroke="#1b1838" stroke-width="1.3">)</tspan></text>
<text x="197.2" y="1340.1" font-size="43" fill="#1b1838">PTL C</text>
<text x="193.6" y="1429.8" font-size="42.6" fill="#1b1838">0.2 mg/cm²</text>
<text x="259.3" y="1656.4" font-size="42.6" fill="#1b1838">1.2 mg/cm²</text>
<defs><linearGradient id="gc" gradientUnits="userSpaceOnUse" x1="262.3" y1="1454.5" x2="308.5" y2="1619"><stop offset="0.1" stop-color="#8faadc"/><stop offset="0.45" stop-color="#4472c4"/><stop offset="1" stop-color="#203864"/></linearGradient></defs>
<line x1="308.5" y1="1619" x2="268.0" y2="1474.8" stroke="url(#gc)" stroke-width="4.2"/>
<polygon points="262.3,1454.5 250.9,1479.4 285.1,1470.1" fill="#8faadc"/>
<text transform="translate(31.7,1518.8) rotate(-90)" font-size="43" text-anchor="middle">Cell voltage <tspan font-style="italic">E</tspan><tspan font-size="27" dy="8">Cell</tspan><tspan dy="-8"> / V</tspan></text>
<line x1="152.0" y1="2308.8" x2="761.3" y2="2308.8" stroke="#dedede" stroke-width="1.3"/>
<line x1="152.0" y1="2239.5" x2="761.3" y2="2239.5" stroke="#dedede" stroke-width="1.3"/>
<line x1="152.0" y1="2170.2" x2="761.3" y2="2170.2" stroke="#dedede" stroke-width="1.3"/>
<line x1="152.0" y1="2101.0" x2="761.3" y2="2101.0" stroke="#dedede" stroke-width="1.3"/>
<line x1="152.0" y1="2031.8" x2="761.3" y2="2031.8" stroke="#dedede" stroke-width="1.3"/>
<line x1="152.0" y1="1962.5" x2="761.3" y2="1962.5" stroke="#dedede" stroke-width="1.3"/>
<line x1="152.0" y1="1893.2" x2="761.3" y2="1893.2" stroke="#dedede" stroke-width="1.3"/>
<line x1="228.2" y1="1824.0" x2="228.2" y2="2378.0" stroke="#dedede" stroke-width="1.3"/>
<line x1="304.3" y1="1824.0" x2="304.3" y2="2378.0" stroke="#dedede" stroke-width="1.3"/>
<line x1="380.5" y1="1824.0" x2="380.5" y2="2378.0" stroke="#dedede" stroke-width="1.3"/>
<line x1="456.6" y1="1824.0" x2="456.6" y2="2378.0" stroke="#dedede" stroke-width="1.3"/>
<line x1="532.8" y1="1824.0" x2="532.8" y2="2378.0" stroke="#dedede" stroke-width="1.3"/>
<line x1="609.0" y1="1824.0" x2="609.0" y2="2378.0" stroke="#dedede" stroke-width="1.3"/>
<line x1="685.1" y1="1824.0" x2="685.1" y2="2378.0" stroke="#dedede" stroke-width="1.3"/>
<line x1="152.0" y1="2308.8" x2="161.0" y2="2308.8" stroke="#3a3a3a" stroke-width="1.6"/>
<line x1="152.0" y1="2239.5" x2="164.0" y2="2239.5" stroke="#3a3a3a" stroke-width="1.6"/>
<line x1="152.0" y1="2170.2" x2="161.0" y2="2170.2" stroke="#3a3a3a" stroke-width="1.6"/>
<line x1="152.0" y1="2101.0" x2="164.0" y2="2101.0" stroke="#3a3a3a" stroke-width="1.6"/>
<line x1="152.0" y1="2031.8" x2="161.0" y2="2031.8" stroke="#3a3a3a" stroke-width="1.6"/>
<line x1="152.0" y1="1962.5" x2="164.0" y2="1962.5" stroke="#3a3a3a" stroke-width="1.6"/>
<line x1="152.0" y1="1893.2" x2="161.0" y2="1893.2" stroke="#3a3a3a" stroke-width="1.6"/>
<line x1="228.2" y1="2378.0" x2="228.2" y2="2367.0" stroke="#3a3a3a" stroke-width="1.6"/>
<line x1="304.3" y1="2378.0" x2="304.3" y2="2367.0" stroke="#3a3a3a" stroke-width="1.6"/>
<line x1="380.5" y1="2378.0" x2="380.5" y2="2367.0" stroke="#3a3a3a" stroke-width="1.6"/>
<line x1="456.6" y1="2378.0" x2="456.6" y2="2367.0" stroke="#3a3a3a" stroke-width="1.6"/>
<line x1="532.8" y1="2378.0" x2="532.8" y2="2367.0" stroke="#3a3a3a" stroke-width="1.6"/>
<line x1="609.0" y1="2378.0" x2="609.0" y2="2367.0" stroke="#3a3a3a" stroke-width="1.6"/>
<line x1="685.1" y1="2378.0" x2="685.1" y2="2367.0" stroke="#3a3a3a" stroke-width="1.6"/>
<rect x="152.0" y="1824.0" width="609.3" height="554.0" fill="none" stroke="#000" stroke-width="2.7" stroke-linejoin="round"/>
<text x="115.5" y="2391.5" font-size="44" text-anchor="end">1.4</text>
<text x="115.5" y="2253.0" font-size="44" text-anchor="end">1.6</text>
<text x="115.5" y="2114.5" font-size="44" text-anchor="end">1.8</text>
<text x="115.5" y="1976.0" font-size="44" text-anchor="end">2.0</text>
<text x="115.5" y="1837.5" font-size="44" text-anchor="end">2.2</text>
<path d="M152.6,2377.7 L153.2,2377.4 L153.5,2377.3 L153.6,2375.0 L153.7,2372.7 L153.8,2368.5 L154.0,2364.6 L154.3,2358.3 L154.6,2353.3 L155.0,2347.6 L155.7,2341.9 L156.6,2335.6 L158.1,2328.1 L159.6,2322.5 L161.9,2316.1 L164.2,2311.0 L167.2,2305.4 L170.3,2300.6 L174.8,2294.4 L179.4,2289.0 L185.5,2282.7 L191.6,2276.9 L200.0,2269.7 L208.3,2263.1 L216.7,2256.9 L225.1,2250.9 L233.4,2245.2 L241.8,2239.7 L250.2,2234.3 L258.5,2229.0 L266.9,2223.9 L275.3,2218.8 L283.6,2213.8 L292.0,2208.9 L300.3,2204.0 L308.7,2199.2 L317.1,2194.4 L325.4,2189.7 L333.8,2185.0 L342.2,2180.3 L350.5,2175.7 L358.9,2171.1 L367.3,2166.5 L375.6,2161.9 L384.0,2157.4 L392.4,2152.9 L400.7,2148.3 L409.1,2143.9 L417.5,2139.4 L425.8,2134.9 L434.2,2130.5 L442.6,2126.0 L450.9,2121.6 L459.3,2117.1 L467.6,2112.7 L476.0,2108.3 L484.4,2103.9 L492.7,2099.5 L501.1,2095.1 L509.5,2090.8 L517.8,2086.4 L526.2,2082.0 L534.6,2077.6 L542.9,2073.3 L551.3,2068.9 L559.7,2064.5 L568.0,2060.2 L576.4,2055.8 L584.8,2051.5 L593.1,2047.1 L601.5,2042.8 L609.9,2038.5 L618.2,2034.1 L626.6,2029.8 L634.9,2025.4 L643.3,2021.1 L651.7,2016.7 L660.0,2012.4 L668.4,2008.1 L676.8,2003.7 L685.1,1999.4" fill="none" stroke="#385723" stroke-width="5.5" stroke-linecap="butt" stroke-linejoin="round"/>
<circle cx="685.1" cy="1999.4" r="2.75" fill="#385723"/>
<path d="M152.6,2377.8 L153.2,2377.5 L153.5,2377.4 L153.6,2376.0 L153.7,2374.5 L153.8,2371.7 L154.0,2369.0 L154.3,2363.8 L154.6,2359.0 L155.0,2352.8 L155.7,2345.9 L156.6,2337.9 L158.1,2327.9 L159.6,2320.5 L161.9,2311.9 L164.2,2305.2 L167.2,2297.9 L170.3,2291.8 L174.8,2284.1 L179.4,2277.6 L185.5,2270.0 L191.6,2263.3 L200.0,2255.2 L208.3,2247.8 L216.7,2241.0 L225.1,2234.6 L233.4,2228.6 L241.8,2222.8 L250.2,2217.2 L258.5,2211.8 L266.9,2206.5 L275.3,2201.4 L283.6,2196.3 L292.0,2191.4 L300.3,2186.5 L308.7,2181.8 L317.1,2177.0 L325.4,2172.4 L333.8,2167.7 L342.2,2163.2 L350.5,2158.6 L358.9,2154.1 L367.3,2149.6 L375.6,2145.2 L384.0,2140.8 L392.4,2136.4 L400.7,2132.0 L409.1,2127.6 L417.5,2123.3 L425.8,2119.0 L434.2,2114.7 L442.6,2110.4 L450.9,2106.1 L459.3,2101.8 L467.6,2097.5 L476.0,2093.3 L484.4,2089.0 L492.7,2084.8 L501.1,2080.5 L509.5,2076.3 L517.8,2072.0 L526.2,2067.8 L534.6,2063.6 L542.9,2059.4 L551.3,2055.1 L559.7,2050.9 L568.0,2046.7 L576.4,2042.5 L584.8,2038.2 L593.1,2034.0 L601.5,2029.8 L609.9,2025.6 L618.2,2021.4 L626.6,2017.1 L634.9,2012.9 L643.3,2008.7 L651.7,2004.4 L660.0,2000.2 L668.4,1996.0 L676.8,1991.7 L685.1,1987.5" fill="none" stroke="#843c0c" stroke-width="5.5" stroke-linecap="butt" stroke-linejoin="round"/>
<circle cx="685.1" cy="1987.5" r="2.75" fill="#843c0c"/>
<path d="M152.6,2377.7 L153.2,2377.5 L153.5,2377.3 L153.6,2376.0 L153.7,2374.7 L153.8,2372.0 L154.0,2369.4 L154.3,2364.4 L154.6,2359.7 L155.0,2353.3 L155.7,2346.1 L156.6,2337.4 L158.1,2326.4 L159.6,2318.2 L161.9,2308.6 L164.2,2301.0 L167.2,2292.8 L170.3,2286.0 L174.8,2277.3 L179.4,2270.0 L185.5,2261.5 L191.6,2254.1 L200.0,2245.0 L208.3,2236.8 L216.7,2229.2 L225.1,2222.1 L233.4,2215.4 L241.8,2209.0 L250.2,2202.8 L258.5,2196.8 L266.9,2191.0 L275.3,2185.4 L283.6,2179.9 L292.0,2174.4 L300.3,2169.1 L308.7,2163.8 L317.1,2158.7 L325.4,2153.6 L333.8,2148.5 L342.2,2143.5 L350.5,2138.5 L358.9,2133.6 L367.3,2128.7 L375.6,2123.9 L384.0,2119.1 L392.4,2114.3 L400.7,2109.6 L409.1,2104.8 L417.5,2100.1 L425.8,2095.4 L434.2,2090.8 L442.6,2086.1 L450.9,2081.5 L459.3,2076.8 L467.6,2072.2 L476.0,2067.6 L484.4,2063.0 L492.7,2058.5 L501.1,2053.9 L509.5,2049.3 L517.8,2044.8 L526.2,2040.2 L534.6,2035.7 L542.9,2031.1 L551.3,2026.6 L559.7,2022.1 L568.0,2017.6 L576.4,2013.0 L584.8,2008.5 L593.1,2004.0 L601.5,1999.5 L609.9,1995.0 L618.2,1990.5 L626.6,1986.0 L634.9,1981.5 L643.3,1977.0 L651.7,1972.5 L660.0,1968.0 L668.4,1963.5 L676.8,1958.9 L685.1,1954.4" fill="none" stroke="#70ad47" stroke-width="5.5" stroke-linecap="butt" stroke-linejoin="round"/>
<circle cx="685.1" cy="1954.4" r="2.75" fill="#70ad47"/>
<path d="M152.6,2377.8 L153.2,2377.5 L153.5,2377.4 L153.6,2375.7 L153.7,2374.0 L153.8,2370.6 L154.0,2367.3 L154.3,2360.9 L154.6,2355.1 L155.0,2347.4 L155.7,2338.8 L156.6,2328.5 L158.1,2315.8 L159.6,2306.4 L161.9,2295.5 L164.2,2287.0 L167.2,2277.9 L170.3,2270.3 L174.8,2260.9 L179.4,2252.9 L185.5,2243.8 L191.6,2235.9 L200.0,2226.3 L208.3,2217.7 L216.7,2209.9 L225.1,2202.6 L233.4,2195.7 L241.8,2189.2 L250.2,2183.0 L258.5,2177.0 L266.9,2171.1 L275.3,2165.5 L283.6,2159.9 L292.0,2154.5 L300.3,2149.2 L308.7,2144.0 L317.1,2138.9 L325.4,2133.8 L333.8,2128.8 L342.2,2123.9 L350.5,2119.0 L358.9,2114.1 L367.3,2109.3 L375.6,2104.5 L384.0,2099.7 L392.4,2095.0 L400.7,2090.3 L409.1,2085.7 L417.5,2081.0 L425.8,2076.4 L434.2,2071.7 L442.6,2067.1 L450.9,2062.5 L459.3,2058.0 L467.6,2053.4 L476.0,2048.8 L484.4,2044.3 L492.7,2039.7 L501.1,2035.2 L509.5,2030.6 L517.8,2026.1 L526.2,2021.6 L534.6,2017.0 L542.9,2012.5 L551.3,2008.0 L559.7,2003.5 L568.0,1998.9 L576.4,1994.4 L584.8,1989.9 L593.1,1985.3 L601.5,1980.8 L609.9,1976.3 L618.2,1971.7 L626.6,1967.2 L634.9,1962.6 L643.3,1958.1 L651.7,1953.5 L660.0,1949.0 L668.4,1944.4 L676.8,1939.8 L685.1,1935.2" fill="none" stroke="#c5e0b4" stroke-width="5.5" stroke-linecap="butt" stroke-linejoin="round"/>
<circle cx="685.1" cy="1935.2" r="2.75" fill="#c5e0b4"/>
<path d="M152.6,2377.7 L153.2,2377.4 L153.5,2377.3 L153.6,2375.0 L153.7,2372.7 L153.8,2368.3 L154.0,2364.2 L154.3,2357.0 L154.6,2351.1 L155.0,2344.1 L155.7,2336.9 L156.6,2328.8 L158.1,2319.2 L159.6,2312.1 L161.9,2304.0 L164.2,2297.6 L167.2,2290.5 L170.3,2284.6 L174.8,2277.1 L179.4,2270.6 L185.5,2263.1 L191.6,2256.3 L200.0,2247.9 L208.3,2240.2 L216.7,2233.0 L225.1,2226.3 L233.4,2219.8 L241.8,2213.5 L250.2,2207.4 L258.5,2201.4 L266.9,2195.6 L275.3,2189.9 L283.6,2184.3 L292.0,2178.7 L300.3,2173.3 L308.7,2167.8 L317.1,2162.4 L325.4,2157.1 L333.8,2151.8 L342.2,2146.5 L350.5,2141.2 L358.9,2136.0 L367.3,2130.8 L375.6,2125.6 L384.0,2120.4 L392.4,2115.2 L400.7,2110.1 L409.1,2104.9 L417.5,2099.7 L425.8,2094.6 L434.2,2089.5 L442.6,2084.3 L450.9,2079.2 L459.3,2074.0 L467.6,2068.9 L476.0,2063.7 L484.4,2058.6 L492.7,2053.4 L501.1,2048.3 L509.5,2043.1 L517.8,2037.9 L526.2,2032.7 L534.6,2027.5 L542.9,2022.4 L551.3,2017.2 L559.7,2011.9 L568.0,2006.7 L576.4,2001.5 L584.8,1996.3 L593.1,1991.0 L601.5,1985.8 L609.9,1980.5 L618.2,1975.2 L626.6,1969.9 L634.9,1964.6 L643.3,1959.3 L651.7,1954.0 L660.0,1948.6 L668.4,1943.3 L676.8,1937.9 L685.1,1932.6" fill="none" stroke="#1f4e79" stroke-width="5.5" stroke-linecap="butt" stroke-linejoin="round"/>
<circle cx="685.1" cy="1932.6" r="2.75" fill="#1f4e79"/>
<path d="M152.6,2377.7 L153.2,2377.4 L153.5,2377.3 L153.6,2375.7 L153.7,2374.1 L153.8,2370.9 L154.0,2367.7 L154.3,2361.9 L154.6,2356.6 L155.0,2349.7 L155.7,2342.1 L156.6,2333.3 L158.1,2322.5 L159.6,2314.4 L161.9,2305.1 L164.2,2297.7 L167.2,2289.7 L170.3,2283.0 L174.8,2274.6 L179.4,2267.3 L185.5,2258.9 L191.6,2251.5 L200.0,2242.4 L208.3,2234.1 L216.7,2226.4 L225.1,2219.1 L233.4,2212.2 L241.8,2205.6 L250.2,2199.2 L258.5,2193.0 L266.9,2187.0 L275.3,2181.1 L283.6,2175.2 L292.0,2169.5 L300.3,2163.9 L308.7,2158.3 L317.1,2152.8 L325.4,2147.3 L333.8,2141.9 L342.2,2136.6 L350.5,2131.2 L358.9,2126.0 L367.3,2120.7 L375.6,2115.4 L384.0,2110.2 L392.4,2105.0 L400.7,2099.9 L409.1,2094.7 L417.5,2089.5 L425.8,2084.4 L434.2,2079.3 L442.6,2074.1 L450.9,2069.0 L459.3,2063.9 L467.6,2058.8 L476.0,2053.7 L484.4,2048.6 L492.7,2043.5 L501.1,2038.4 L509.5,2033.3 L517.8,2028.2 L526.2,2023.1 L534.6,2018.1 L542.9,2013.0 L551.3,2007.9 L559.7,2002.7 L568.0,1997.6 L576.4,1992.5 L584.8,1987.4 L593.1,1982.3 L601.5,1977.2 L609.9,1972.0 L618.2,1966.9 L626.6,1961.7 L634.9,1956.6 L643.3,1951.4 L651.7,1946.3 L660.0,1941.1 L668.4,1935.9 L676.8,1930.7 L685.1,1925.5" fill="none" stroke="#ed7d31" stroke-width="5.5" stroke-linecap="butt" stroke-linejoin="round"/>
<circle cx="685.1" cy="1925.5" r="2.75" fill="#ed7d31"/>
<path d="M152.6,2377.8 L153.2,2377.5 L153.5,2377.4 L153.6,2375.2 L153.7,2373.1 L153.8,2368.9 L154.0,2364.9 L154.3,2357.4 L154.6,2350.8 L155.0,2342.5 L155.7,2333.5 L156.6,2323.2 L158.1,2310.8 L159.6,2301.7 L161.9,2291.2 L164.2,2283.0 L167.2,2274.1 L170.3,2266.8 L174.8,2257.6 L179.4,2249.8 L185.5,2240.8 L191.6,2232.9 L200.0,2223.2 L208.3,2214.6 L216.7,2206.5 L225.1,2199.0 L233.4,2191.9 L241.8,2185.0 L250.2,2178.4 L258.5,2172.0 L266.9,2165.7 L275.3,2159.6 L283.6,2153.6 L292.0,2147.6 L300.3,2141.7 L308.7,2135.9 L317.1,2130.1 L325.4,2124.4 L333.8,2118.7 L342.2,2113.0 L350.5,2107.4 L358.9,2101.8 L367.3,2096.1 L375.6,2090.5 L384.0,2084.9 L392.4,2079.3 L400.7,2073.7 L409.1,2068.0 L417.5,2062.4 L425.8,2056.8 L434.2,2051.1 L442.6,2045.5 L450.9,2039.8 L459.3,2034.1 L467.6,2028.4 L476.0,2022.7 L484.4,2017.0 L492.7,2011.2 L501.1,2005.4 L509.5,1999.6 L517.8,1993.8 L526.2,1987.9 L534.6,1982.1 L542.9,1976.2 L551.3,1970.3 L559.7,1964.3 L568.0,1958.3 L576.4,1952.3 L584.8,1946.3 L593.1,1940.3 L601.5,1934.2 L609.9,1928.1 L618.2,1921.9 L626.6,1915.8 L634.9,1909.6 L643.3,1903.3 L651.7,1897.1 L660.0,1890.8 L668.4,1884.5 L676.8,1878.1 L685.1,1871.7" fill="none" stroke="#4472c4" stroke-width="5.5" stroke-linecap="butt" stroke-linejoin="round"/>
<circle cx="685.1" cy="1871.7" r="2.75" fill="#4472c4"/>
<path d="M152.6,2377.6 L153.2,2377.2 L153.5,2377.1 L153.6,2373.9 L153.7,2370.7 L153.8,2364.7 L154.0,2359.1 L154.3,2349.8 L154.6,2342.3 L155.0,2333.5 L155.7,2324.7 L156.6,2314.9 L158.1,2303.3 L159.6,2294.7 L161.9,2284.9 L164.2,2277.0 L167.2,2268.5 L170.3,2261.2 L174.8,2252.0 L179.4,2244.0 L185.5,2234.6 L191.6,2226.3 L200.0,2215.9 L208.3,2206.3 L216.7,2197.4 L225.1,2189.0 L233.4,2181.0 L241.8,2173.3 L250.2,2165.8 L258.5,2158.6 L266.9,2151.5 L275.3,2144.5 L283.6,2137.7 L292.0,2131.1 L300.3,2124.5 L308.7,2118.0 L317.1,2111.6 L325.4,2105.3 L333.8,2099.1 L342.2,2092.9 L350.5,2086.8 L358.9,2080.8 L367.3,2074.8 L375.6,2068.8 L384.0,2062.9 L392.4,2057.1 L400.7,2051.2 L409.1,2045.5 L417.5,2039.7 L425.8,2034.0 L434.2,2028.4 L442.6,2022.7 L450.9,2017.1 L459.3,2011.5 L467.6,2006.0 L476.0,2000.5 L484.4,1995.0 L492.7,1989.5 L501.1,1984.1 L509.5,1978.7 L517.8,1973.3 L526.2,1967.9 L534.6,1962.5 L542.9,1957.2 L551.3,1951.9 L559.7,1946.6 L568.0,1941.4 L576.4,1936.1 L584.8,1930.9 L593.1,1925.7 L601.5,1920.5 L609.9,1915.3 L618.2,1910.2 L626.6,1905.1 L634.9,1899.9 L643.3,1894.8 L651.7,1889.8 L660.0,1884.7 L668.4,1879.6 L676.8,1874.6 L685.1,1869.6" fill="none" stroke="#f8cbad" stroke-width="5.5" stroke-linecap="butt" stroke-linejoin="round"/>
<circle cx="685.1" cy="1869.6" r="2.75" fill="#f8cbad"/>
<path d="M152.6,2377.7 L153.2,2377.3 L153.5,2377.1 L153.6,2373.9 L153.7,2370.7 L153.8,2364.6 L154.0,2358.9 L154.3,2349.4 L154.6,2341.8 L155.0,2332.9 L155.7,2323.9 L156.6,2313.9 L158.1,2302.1 L159.6,2293.5 L161.9,2283.5 L164.2,2275.6 L167.2,2267.0 L170.3,2259.8 L174.8,2250.6 L179.4,2242.6 L185.5,2233.3 L191.6,2225.0 L200.0,2214.7 L208.3,2205.2 L216.7,2196.4 L225.1,2188.1 L233.4,2180.0 L241.8,2172.3 L250.2,2164.8 L258.5,2157.5 L266.9,2150.3 L275.3,2143.3 L283.6,2136.4 L292.0,2129.5 L300.3,2122.7 L308.7,2116.0 L317.1,2109.4 L325.4,2102.8 L333.8,2096.3 L342.2,2089.8 L350.5,2083.3 L358.9,2076.8 L367.3,2070.4 L375.6,2064.0 L384.0,2057.6 L392.4,2051.2 L400.7,2044.8 L409.1,2038.5 L417.5,2032.1 L425.8,2025.8 L434.2,2019.4 L442.6,2013.1 L450.9,2006.8 L459.3,2000.4 L467.6,1994.1 L476.0,1987.7 L484.4,1981.4 L492.7,1975.0 L501.1,1968.7 L509.5,1962.3 L517.8,1955.9 L526.2,1949.6 L534.6,1943.2 L542.9,1936.8 L551.3,1930.4 L559.7,1924.0 L568.0,1917.5 L576.4,1911.1 L584.8,1904.7 L593.1,1898.2 L601.5,1891.7 L609.9,1885.3 L618.2,1878.8 L626.6,1872.3 L634.9,1865.7 L643.3,1859.2 L651.7,1852.6 L660.0,1846.1 L668.4,1839.5 L676.8,1832.9 L685.1,1826.3" fill="none" stroke="#a9c1e8" stroke-width="5.5" stroke-linecap="butt" stroke-linejoin="round"/>
<circle cx="685.1" cy="1826.3" r="2.75" fill="#a9c1e8"/>
<text x="203.5" y="1888.5" font-size="61" fill="#1b1838"><tspan font-weight="bold" stroke="none">d</tspan><tspan font-size="64" dx="-2" stroke="#1b1838" stroke-width="1.3">)</tspan></text>
<text x="201" y="1944.7" font-size="43" fill="#1b1838">PTL A-C</text>
<text transform="translate(31.3,2093.5) rotate(-90)" font-size="43" text-anchor="middle">Cell voltage <tspan font-style="italic">E</tspan><tspan font-size="27" dy="8">Cell</tspan><tspan dy="-8"> / V</tspan></text>
<text x="150.5" y="2442" font-size="44" text-anchor="middle">0</text>
<text x="226.7" y="2442" font-size="44" text-anchor="middle">0.5</text>
<text x="302.8" y="2442" font-size="44" text-anchor="middle">1</text>
<text x="379.0" y="2442" font-size="44" text-anchor="middle">1.5</text>
<text x="455.1" y="2442" font-size="44" text-anchor="middle">2</text>
<text x="531.3" y="2442" font-size="44" text-anchor="middle">2.5</text>
<text x="607.5" y="2442" font-size="44" text-anchor="middle">3</text>
<text x="683.6" y="2442" font-size="44" text-anchor="middle">3.5</text>
<text x="759.8" y="2442" font-size="44" text-anchor="middle">4</text>
<text x="235.6" y="2492.5" font-size="42.8">Current density <tspan font-style="italic">i</tspan> / A cm<tspan font-size="25" dy="-12.5">-2</tspan></text>
</svg></body></html>
